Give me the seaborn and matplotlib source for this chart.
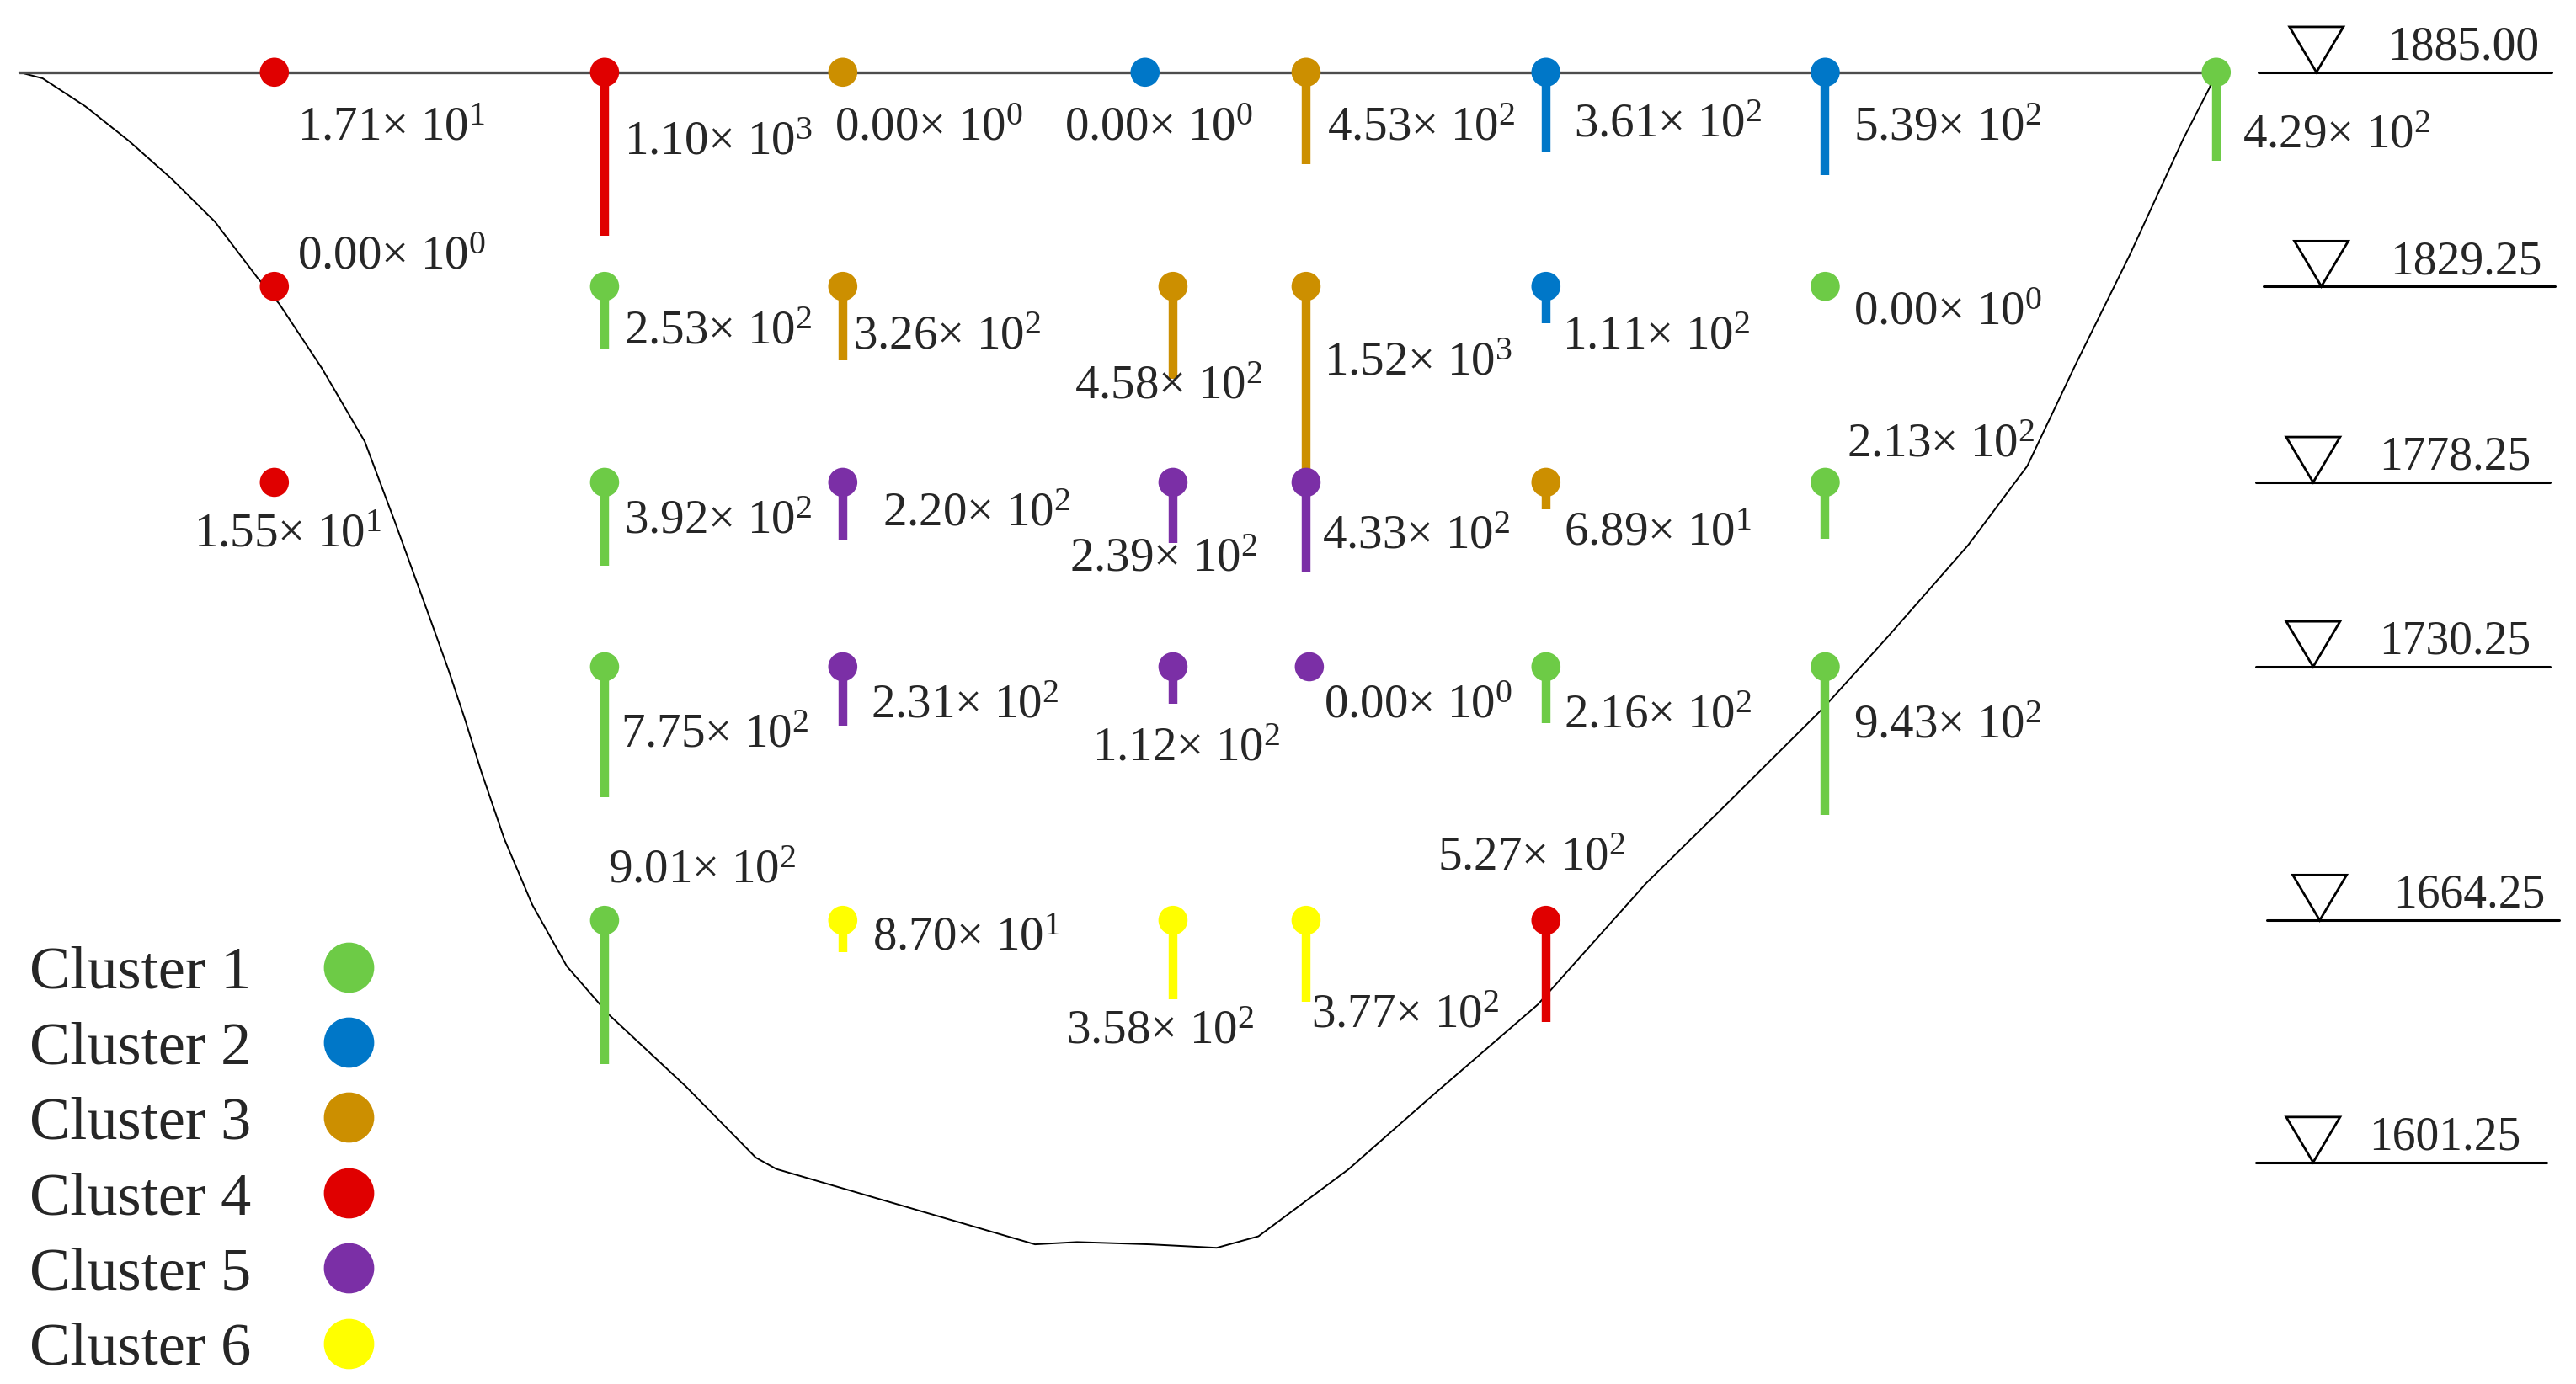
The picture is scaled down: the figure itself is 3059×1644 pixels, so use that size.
import numpy as np
import pandas as pd
import matplotlib
matplotlib.use('Agg')
import matplotlib.pyplot as plt
import seaborn as sns
from matplotlib.lines import Line2D
from matplotlib.patches import Polygon

# elevation levels of the section (m)
levels = [1885.00, 1829.25, 1778.25, 1730.25, 1664.25, 1601.25]

# sampling points: horizontal position along the section, elevation, value, cluster
point_x = [167, 368, 513, 697, 795, 941, 1111, 1349,
           167, 368, 513, 714, 795, 941, 1111,
           167, 368, 513, 714, 795, 941, 1111,
           368, 513, 714, 797, 941, 1111,
           368, 513, 714, 795, 941]
point_elev = ([1885.00] * 8 + [1829.25] * 7 + [1778.25] * 7
              + [1730.25] * 6 + [1664.25] * 5)
point_value = [17.1, 1100, 0, 0, 453, 361, 539, 429,
               0, 253, 326, 458, 1520, 111, 0,
               15.5, 392, 220, 239, 433, 68.9, 213,
               775, 231, 112, 0, 216, 943,
               901, 87.0, 358, 377, 527]
point_cluster = [4, 4, 3, 2, 3, 2, 2, 1,
                 4, 1, 3, 3, 3, 2, 1,
                 4, 1, 5, 5, 5, 3, 1,
                 1, 5, 5, 5, 1, 1,
                 1, 6, 6, 6, 4]

# river bed profile
profile_x = [11.8, 26, 52, 78.5, 104.6, 130.8, 156.9, 170, 196, 222, 240.6, 261.5,
             273, 283, 293, 307, 324, 345, 370.6, 417.5, 460, 472.6, 630, 655.6,
             700, 740.6, 766, 821, 871, 936, 1002, 1051, 1110, 1149, 1198, 1234,
             1263.5, 1296, 1329, 1345, 1348]
profile_elev = [1885.0, 1883.4, 1876.1, 1867.1, 1857.2, 1846.1, 1831.4, 1824.7,
                1807.9, 1788.9, 1767.7, 1743.1, 1729.4, 1716.6, 1702.9, 1685.4,
                1668.3, 1652.3, 1639.7, 1621.0, 1602.5, 1599.5, 1579.9, 1580.5,
                1579.9, 1579.0, 1582.0, 1599.5, 1618.3, 1642.3, 1673.9, 1694.5,
                1719.6, 1738.0, 1761.9, 1782.5, 1809.0, 1837.1, 1867.7, 1881.0,
                1885.0]

cluster_names = ['Cluster 1', 'Cluster 2', 'Cluster 3', 'Cluster 4', 'Cluster 5', 'Cluster 6']
cluster_colors = ['#6dcb46', '#0077c8', '#cc8f00', '#e00000', '#7b2fa6', '#ffff00']

# label offsets from the dot (px of the small picture, right / down)
label_off = [(14, 34), (12, 43), (-5, 34), (-49, 34), (13, 34), (17, 32), (17, 34), (16, 39),
             (14, -18), (12, 28), (6, 31), (-60, 61), (11, 47), (10, 31), (17, 16),
             (-49, 32), (12, 24), (24, 19), (-63, 47), (10, 33), (11, 31), (13, -23),
             (10, 42), (17, 24), (-49, 50), (9, 24), (11, 30), (17, 36),
             (2, -30), (18, 11), (-65, 68), (3, 58), (-66, -38)]

# elevation marks on the right: line start, line end, triangle centre, text left
mark_pos = [(1375, 1553, 1410, 1453), (1378, 1555, 1413, 1455), (1373, 1552, 1408, 1448),
            (1373, 1552, 1408, 1448), (1380, 1558, 1412, 1457), (1373, 1550, 1408, 1442)]

df = pd.DataFrame({'x': point_x, 'elev': point_elev, 'value': point_value,
                   'cluster': [cluster_names[c - 1] for c in point_cluster]})
# stem length grows with the value
df['stem'] = 0.449 * df['value'] ** 0.65

sns.set_style('white')
plt.rcParams['font.family'] = ['Liberation Serif', 'DejaVu Serif']
plt.rcParams['mathtext.fontset'] = 'custom'
plt.rcParams['mathtext.rm'] = 'Liberation Serif'
plt.rcParams['mathtext.default'] = 'regular'

fig = plt.figure(figsize=(30.59, 16.44), dpi=100)
ax = fig.add_axes([0, 0, 1, 1])
ax.set_xlim(0, 1568)
ax.set_ylim(1543.55, 1903.8)
ax.axis('off')

# section outline and water surface
ax.plot(profile_x, profile_elev, color='black', lw=1.4, zorder=1, solid_joinstyle='round')
ax.plot([profile_x[0], profile_x[-1]], [levels[0], levels[0]], color='#4d4d4d', lw=2.4, zorder=1)

pal = dict(zip(cluster_names, cluster_colors))
ax.vlines(df['x'], df['elev'] - df['stem'], df['elev'],
          colors=[pal[c] for c in df['cluster']], lw=7.5, zorder=2)
sns.scatterplot(data=df, x='x', y='elev', hue='cluster', palette=pal, s=620,
                linewidth=0, legend=False, ax=ax, zorder=3)
ax.set_xlabel('')
ax.set_ylabel('')

k = 3059 / 1568 * 72 / 100
for i, row in df.iterrows():
    v = row['value']
    e = int(np.floor(np.log10(v))) if v > 0 else 0
    m = v / 10 ** e
    dx, dy = label_off[i]
    ax.annotate(f'{m:.2f}\u00d7 10$^{{{e}}}$', (row['x'], row['elev']),
                xytext=(dx * k, -dy * k), textcoords='offset points',
                ha='left', va='center', fontsize=41)

# elevation marks
for lev, (x0, x1, xc, xt) in zip(levels, mark_pos):
    ax.plot([x0, x1], [lev, lev], color='black', lw=2.2)
    ax.add_patch(Polygon([(xc - 16.4, lev + 11.8), (xc + 16.4, lev + 11.8), (xc, lev)],
                         closed=True, facecolor='white', edgecolor='black', lw=2))
    ax.text(xt, lev + 6.4, f'{lev:.2f}', ha='left', va='center', fontsize=40)

handles = [Line2D([], [], marker='o', ls='none', ms=42, mfc=c, mec=c) for c in cluster_colors]
ax.legend(handles, cluster_names, loc='lower left', bbox_to_anchor=(0.0115, 0.005),
          markerfirst=False, frameon=False, fontsize=52, handlelength=1.0,
          handletextpad=1.1, labelspacing=0.33, borderpad=0, borderaxespad=0)

fig.savefig('out.png', dpi=100, facecolor='white')
